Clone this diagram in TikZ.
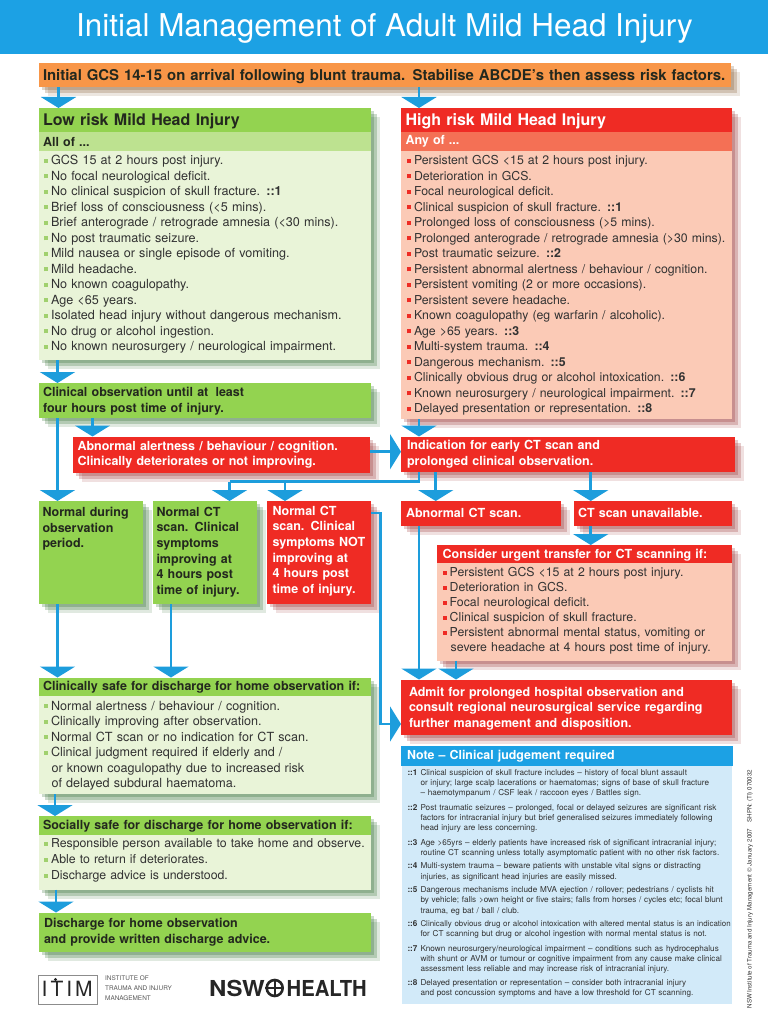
\documentclass[tikz,border=0pt]{standalone}
\usepackage{fontspec}
\setmainfont{TeX Gyre Heros}
\usepackage{tikz}
\usetikzlibrary{
  arrows.meta,
  positioning,
  shadows
}
\definecolor{skyblue}{RGB}{28,161,228}
\definecolor{arrowblue}{RGB}{29,157,220}
\definecolor{notepale}{RGB}{210,234,249}
\definecolor{safegreen}{RGB}{147,211,80}
\definecolor{midgreen}{RGB}{189,226,144}
\definecolor{palegreen}{RGB}{233,244,216}
\definecolor{dotgreen}{RGB}{160,208,110}
\definecolor{riskred}{RGB}{239,43,36}
\definecolor{midred}{RGB}{244,112,85}
\definecolor{palered}{RGB}{251,202,182}
\definecolor{startorange}{RGB}{248,150,72}
\definecolor{inkdark}{RGB}{35,40,30}
\definecolor{inkgrey}{RGB}{50,50,50}
% list helpers
\newcommand{\gb}{\leavevmode\hspace*{5.5pt}\textcolor{dotgreen}{\rule[2pt]{4pt}{4pt}}\hspace{3pt}}
\newcommand{\rb}{\leavevmode\hspace*{6pt}\textcolor{riskred}{\rule[2pt]{4pt}{4pt}}\hspace{3pt}}
\newcommand{\ind}{\leavevmode\hspace*{13pt}}
\newcommand{\mk}[1]{\leavevmode\hspace*{6pt}\makebox[13pt][l]{\textbf{::#1}}}
\newcommand{\nt}{\leavevmode\hspace*{19pt}}
\begin{document}
\begin{tikzpicture}[
    x=1pt, y=-1pt,
    box/.style={
      rectangle, anchor=north west, inner ysep=0pt, outer sep=0pt,
      inner xsep=4.5pt, align=left
    },
    bold/.style={font=\fontsize{12.5}{15.4}\selectfont\bfseries},
    list/.style={font=\fontsize{12.3}{15.5}\selectfont, text=inkgrey, inner xsep=0pt},
    listwide/.style={font=\fontsize{12.6}{15.5}\selectfont, text=inkgrey, inner xsep=0pt},
    head/.style={font=\fontsize{16}{18}\selectfont\bfseries, text depth=1pt},
    greenbox/.style={
      box, fill=safegreen, text=inkdark,
      drop shadow={shadow xshift=3pt, shadow yshift=-3pt, fill=green!30!black, opacity=.2},
      drop shadow={shadow xshift=6pt, shadow yshift=-6pt, fill=green!30!black, opacity=.2},
      drop shadow={shadow xshift=9pt, shadow yshift=-9pt, fill=green!30!black, opacity=.12}
    },
    redbox/.style={
      box, fill=riskred, text=white,
      drop shadow={shadow xshift=3pt, shadow yshift=-3pt, fill=red!50!black, opacity=.2},
      drop shadow={shadow xshift=6pt, shadow yshift=-6pt, fill=red!50!black, opacity=.2},
      drop shadow={shadow xshift=9pt, shadow yshift=-9pt, fill=red!50!black, opacity=.12}
    },
    arr/.style={-{Triangle[width=35pt, length=11pt]}, line width=2.6pt, draw=arrowblue},
    elbow/.style={line width=2.6pt, draw=arrowblue},
  ]
  \useasboundingbox (0,0) rectangle (768,1024);

  %% ── Banner ────────────────────────────────
  \fill[skyblue] (0,0) rectangle (768,54);
  \node[text=white, font=\fontsize{31.4}{36}\selectfont] (title) at (384.5,28)
    {Initial Management of Adult Mild Head Injury};
  \node[box, fill=startorange, text=inkdark, at={(38.5,63)}, text width=683.5pt,
        minimum height=24pt, font=\fontsize{14.9}{16}\selectfont\bfseries,
        inner xsep=4.5pt, text depth=0pt,
        drop shadow={shadow xshift=3pt, shadow yshift=-3pt, fill=orange!40!black, opacity=.2},
        drop shadow={shadow xshift=6pt, shadow yshift=-6pt, fill=orange!40!black, opacity=.2},
        drop shadow={shadow xshift=9pt, shadow yshift=-9pt, fill=orange!40!black, opacity=.12}]
    (start) {Initial GCS 14-15 on arrival following blunt trauma. Stabilise ABCDE’s then assess risk factors.};

  %% ── Low risk column ───────────────────────
  \node[greenbox, at={(38.5,108)}, text width=323.5pt, minimum height=24pt,
        head] (lowhead) {Low risk Mild Head Injury};
  \node[greenbox, fill=midgreen, below=0pt of lowhead, text width=323.5pt, minimum height=19.5pt,
        bold] (lowsub) {All of ...};
  \node[greenbox, fill=palegreen, below=0pt of lowsub, text width=332.5pt, minimum height=208.5pt,
        listwide, text depth=191pt] (lowbody)
    {\gb GCS 15 at 2 hours post injury.\\
     \gb No focal neurological deficit.\\
     \gb No clinical suspicion of skull fracture. \textbf{::1}\\
     \gb Brief loss of consciousness (<5 mins).\\
     \gb Brief anterograde / retrograde amnesia (<30 mins).\\
     \gb No post traumatic seizure.\\
     \gb Mild nausea or single episode of vomiting.\\
     \gb Mild headache.\\
     \gb No known coagulopathy.\\
     \gb Age <65 years.\\
     \gb Isolated head injury without dangerous mechanism.\\
     \gb No drug or alcohol ingestion.\\
     \gb No known neurosurgery / neurological impairment.};

  %% ── High risk column ──────────────────────
  \node[redbox, at={(401,108)}, text width=321.7pt, minimum height=24pt,
        head] (highhead) {High risk Mild Head Injury};
  \node[redbox, fill=midred, below=0pt of highhead, text width=321.7pt, minimum height=19.5pt,
        bold] (highsub) {Any of ...};
  \node[redbox, fill=palered, below=0pt of highsub, text width=330.7pt, minimum height=267.5pt,
        list, text depth=250pt] (highbody)
    {\rb Persistent GCS <15 at 2 hours post injury.\\
     \rb Deterioration in GCS.\\
     \rb Focal neurological deficit.\\
     \rb Clinical suspicion of skull fracture. \textbf{::1}\\
     \rb Prolonged loss of consciousness (>5 mins).\\
     \rb Prolonged anterograde / retrograde amnesia (>30 mins).\\
     \rb Post traumatic seizure. \textbf{::2}\\
     \rb Persistent abnormal alertness / behaviour / cognition.\\
     \rb Persistent vomiting (2 or more occasions).\\
     \rb Persistent severe headache.\\
     \rb Known coagulopathy (eg warfarin / alcoholic).\\
     \rb Age >65 years. \textbf{::3}\\
     \rb Multi-system trauma. \textbf{::4}\\
     \rb Dangerous mechanism. \textbf{::5}\\
     \rb Clinically obvious drug or alcohol intoxication. \textbf{::6}\\
     \rb Known neurosurgery / neurological impairment. \textbf{::7}\\
     \rb Delayed presentation or representation. \textbf{::8}};

  %% ── Observation row ───────────────────────
  \node[greenbox, at={(38.5,383)}, text width=323.5pt, minimum height=35pt, bold,
        text depth=16.4pt] (obs)
    {Clinical observation until at\hspace{3pt} least\\four hours post time of injury.};
  \node[redbox, at={(73,436.5)}, text width=288pt, minimum height=36pt, bold] (abnormal)
    {Abnormal alertness / behaviour / cognition.\\Clinically deteriorates or not improving.};
  \node[redbox, at={(401,436.5)}, text width=321.7pt, minimum height=35.5pt, bold,
        inner xsep=6pt] (early)
    {Indication for early CT scan and\\prolonged clinical observation.};

  %% ── Outcome row ───────────────────────────
  \node[greenbox, at={(38.5,501)}, text width=96pt, minimum height=103pt,
        font=\fontsize{12.5}{15.6}\selectfont\bfseries,
        inner xsep=4pt, text depth=81pt] (normalobs)
    {Normal during\\observation\\period.};
  \node[greenbox, right=10pt of normalobs, text width=96pt, minimum height=103pt,
        font=\fontsize{12.5}{15.6}\selectfont\bfseries,
        inner xsep=4pt, text depth=81.6pt] (normalct)
    {Normal CT\\scan. Clinical\\symptoms\\improving at\\4 hours post\\time of injury.};
  \node[redbox, right=10pt of normalct, text width=92pt, minimum height=103pt,
        font=\fontsize{12.5}{15.6}\selectfont\bfseries,
        inner xsep=6pt, text depth=83.6pt] (notbetter)
    {Normal CT\\scan. Clinical\\\mbox{symptoms NOT}\\improving at\\4 hours post\\time of injury.};
  \node[redbox, at={(401,501)}, text width=150pt, minimum height=25pt, bold,
        inner xsep=5pt, text depth=1.6pt] (abnormalct) {Abnormal CT scan.};
  \node[redbox, at={(574,501)}, text width=149.7pt, minimum height=25pt, bold,
        inner xsep=4pt, text depth=1.6pt] (noct) {CT scan unavailable.};

  %% ── Transfer panel ────────────────────────
  \node[redbox, at={(436.7,545)}, text width=283pt, minimum height=18pt, bold,
        inner xsep=6pt, text depth=1pt] (transferhead) {Consider urgent transfer for CT scanning if:};
  \node[redbox, fill=palered, below=0pt of transferhead, text width=295pt, minimum height=97.5pt,
        list, font=\fontsize{12.3}{15}\selectfont, text depth=79pt] (transferbody)
    {\rb Persistent GCS <15 at 2 hours post injury.\\
     \rb Deterioration in GCS.\\
     \rb Focal neurological deficit.\\
     \rb Clinical suspicion of skull fracture.\\
     \rb Persistent abnormal mental status, vomiting or\\
     \ind\hspace{1pt}severe headache at 4 hours post time of injury.};

  \node[redbox, at={(401,679.5)}, text width=314.7pt, minimum height=55.5pt, bold,
        inner xsep=8pt, text depth=30.8pt] (admit)
    {Admit for prolonged hospital observation and\\consult regional neurosurgical service regarding\\further management and disposition.};

  %% ── Discharge panels ──────────────────────
  \node[greenbox, at={(38.5,677.5)}, text width=323pt, minimum height=18.5pt, bold,
        text depth=1pt] (safehead)
    {Clinically safe for discharge for home observation if:};
  \node[greenbox, fill=palegreen, below=0pt of safehead, text width=332pt, minimum height=98pt,
        listwide, text depth=79pt] (safebody)
    {\gb Normal alertness / behaviour / cognition.\\
     \gb Clinically improving after observation.\\
     \gb Normal CT scan or no indication for CT scan.\\
     \gb Clinical judgment required if elderly and /\\
     \ind or known coagulopathy due to increased risk\\
     \ind of delayed subdural haematoma.};
  \node[greenbox, at={(38.5,816)}, text width=323.5pt, minimum height=18.5pt, bold,
        text depth=0pt] (socialhead)
    {Socially safe for discharge for home observation if:};
  \node[greenbox, fill=palegreen, below=0pt of socialhead, text width=332.5pt, minimum height=55pt,
        list, font=\fontsize{12.3}{16}\selectfont, text depth=37pt] (socialbody)
    {\gb Responsible person available to take home and observe.\\
     \gb Able to return if deteriorates.\\
     \gb Discharge advice is understood.};
  \node[greenbox, at={(38.5,912.5)}, text width=321.5pt, minimum height=39pt, bold,
        inner xsep=5.5pt] (discharge)
    {Discharge for home observation\\and provide written discharge advice.};

  %% ── Note panel ────────────────────────────
  \node[box, fill=skyblue, text=white, at={(401,746)}, text width=319.7pt, minimum height=20pt,
        inner xsep=6pt, font=\fontsize{12.4}{15}\selectfont\bfseries] (notehead)
    {Note – Clinical judgement required};
  \node[box, fill=notepale, text=inkgrey, below=0pt of notehead, text width=330.7pt, minimum height=238pt,
        inner xsep=0pt, font=\fontsize{8.15}{10.2}\selectfont, text depth=225pt] (notebody)
    {\mk{1}Clinical suspicion of skull fracture includes – history of focal blunt assault\\
     \nt or injury; large scalp lacerations or haematomas; signs of base of skull fracture\\
     \nt – haemotympanum / CSF leak / raccoon eyes / Battles sign.\\[4.3pt]
     \mk{2}Post traumatic seizures – prolonged, focal or delayed seizures are significant risk\\
     \nt factors for intracranial injury but brief generalised seizures immediately following\\
     \nt head injury are less concerning.\\[4pt]
     \mk{3}Age >65yrs – elderly patients have increased risk of significant intracranial injury;\\
     \nt routine CT scanning unless totally asymptomatic patient with no other risk factors.\\[3.4pt]
     \mk{4}Multi-system trauma – beware patients with unstable vital signs or distracting\\
     \nt injuries, as significant head injuries are easily missed.\\[3.4pt]
     \mk{5}Dangerous mechanisms include MVA ejection / rollover; pedestrians / cyclists hit\\
     \nt by vehicle; falls >own height or five stairs; falls from horses / cycles etc; focal blunt\\
     \nt trauma, eg bat / ball / club.\\[3.2pt]
     \mk{6}\mbox{\fontsize{7.95}{10.2}\selectfont Clinically obvious drug or alcohol intoxication with altered mental status is an indication}\\
     \nt for CT scanning but drug or alcohol ingestion with normal mental status is not.\\[4.5pt]
     \mk{7}Known neurosurgery/neurological impairment – conditions such as hydrocephalus\\
     \nt with shunt or AVM or tumour or cognitive impairment from any cause make clinical\\
     \nt assessment less reliable and may increase risk of intracranial injury.\\[3.8pt]
     \mk{8}Delayed presentation or representation – consider both intracranial injury\\
     \nt and post concussion symptoms and have a low threshold for CT scanning.};

  %% ── Footer ────────────────────────────────
  \node[rotate=90, text=inkgrey, font=\fontsize{6.2}{7}\selectfont] (credit) at (750,889)
    {NSW Institute of Trauma and Injury Management © January 2007\quad SHPN: (TI) 070032};
  \node[draw=black!45, fill=white, anchor=north west, at={(37.5,974.5)}, minimum width=59pt,
        minimum height=29pt, inner sep=0pt, font=\fontsize{21}{22}\selectfont, text=black!85]
    (itim) {I\hspace{3pt}T\hspace{3pt}I\hspace{3pt}M};
  \node[circle, fill=black!85, inner sep=0pt, minimum size=3.4pt] (itimdot) at (55.5,979.5) {};
  \node[anchor=west, at={(105,988.5)}, align=left, text=black!65, inner sep=0pt,
        font=\fontsize{6.4}{10}\selectfont] (itimname) {INSTITUTE OF\\TRAUMA AND INJURY\\MANAGEMENT};
  \node[anchor=west, at={(209,988)}, inner sep=0pt, xscale=1.09, transform shape,
        text=black!85, font=\fontsize{22}{24}\selectfont\bfseries] (nsw) {NSW};
  \node[circle, draw=black!85, line width=2.6pt, minimum size=16pt, inner sep=0pt] (crest) at (274.7,988) {};
  \draw[black!85, line width=1.6pt] (crest.north) -- (crest.south) (crest.west) -- (crest.east);
  \node[anchor=east, at={(367,988)}, inner sep=0pt, xscale=.92, transform shape,
        text=black!85, font=\fontsize{22}{24}\selectfont\bfseries] (health) {HEALTH};

  %% ── Arrow columns ─────────────────────────
  \coordinate (cola) at (58.5,0);
  \coordinate (colb) at (419,0);
  \coordinate (colc) at (57.5,0);
  \coordinate (cold) at (92.5,0);
  \coordinate (cole) at (229.5,0);
  \coordinate (colf) at (285,0);
  \coordinate (colg) at (435.7,0);
  \coordinate (colh) at (590.7,0);
  \coordinate (coli) at (456,0);
  \coordinate (colj) at (171,0);
  \coordinate (colk) at (55,0);
  \coordinate (coll) at (56,0);
  \coordinate (turn) at (380.5,0);
  \coordinate (rowa) at (0,481.5);
  \coordinate (rowb) at (0,724);
  \coordinate (rowc) at (0,451.7);
  \coordinate (rowd) at (0,513);

  %% ── Arrows ────────────────────────────────
  \draw[arr] (start.south -| cola) -- (lowhead.north -| cola);
  \draw[arr] (start.south -| colb) -- (highhead.north -| colb);
  \draw[arr] (lowbody.south -| colc) -- (obs.north -| colc);
  \draw[arr] (highbody.south -| colb) -- (early.north -| colb);
  \draw[arr] (obs.south -| cold) -- (abnormal.north -| cold);
  \draw[arr] (obs.south -| colc) -- (normalobs.north -| colc);
  \draw[arr] (abnormal.east |- rowc) -- (early.west |- rowc);
  \draw[elbow] (early.south -| colb) |- (cole |- rowa);
  \draw[arr] (rowa -| cole) -- (normalct.north -| cole);
  \draw[arr] (rowa -| colf) -- (notbetter.north -| colf);
  \draw[arr] (early.south -| colg) -- (abnormalct.north -| colg);
  \draw[arr] (early.south -| colh) -- (noct.north -| colh);
  \draw[arr] (noct.south -| colh) -- (transferhead.north -| colh);
  \draw[arr] (abnormalct.south -| colb) -- (admit.north -| colb);
  \draw[arr] (transferbody.south -| coli) -- (admit.north -| coli);
  \draw[arr] (normalobs.south -| colc) -- (safehead.north -| colc);
  \draw[arr] (normalct.south -| colj) -- (safehead.north -| colj);
  \draw[arr] (safebody.south -| colk) -- (socialhead.north -| colk);
  \draw[arr] (socialbody.south -| coll) -- (discharge.north -| coll);
  \draw[arr] (notbetter.east |- rowd) -| (turn |- rowb) -- (admit.west |- rowb);
\end{tikzpicture}
\end{document}
